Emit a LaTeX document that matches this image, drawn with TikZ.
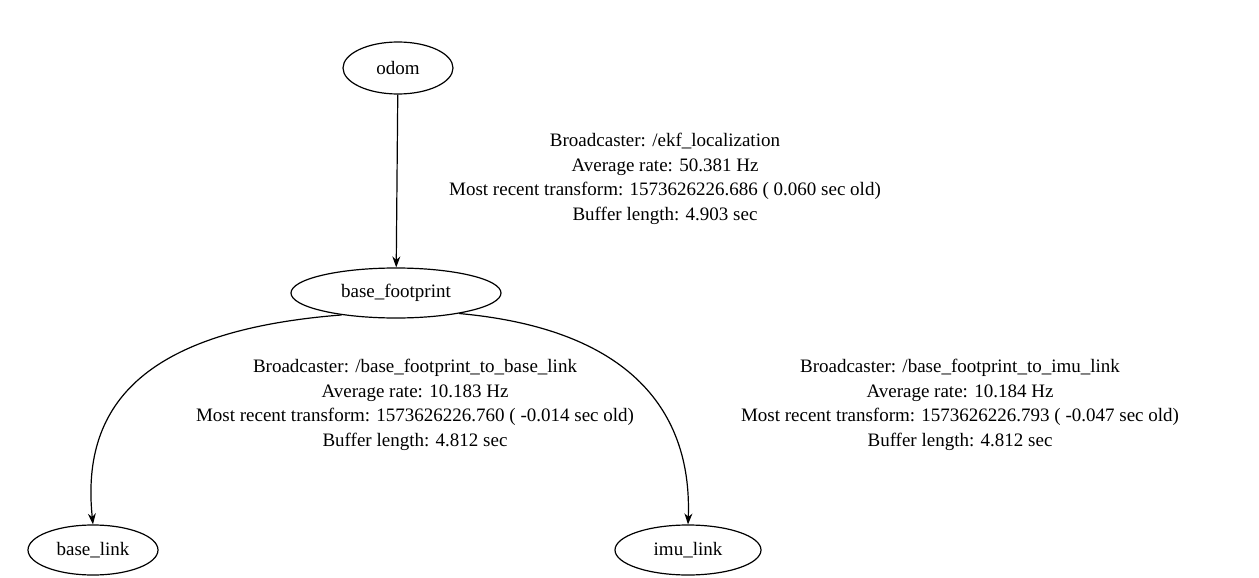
\documentclass[tikz,border=0pt]{standalone}
\usepackage{fontspec}
\setmainfont{Liberation Serif}
\usetikzlibrary{shapes.geometric,arrows.meta}
\begin{document}
\begin{tikzpicture}[x=1pt,y=-1pt,
  nd/.style={draw,ellipse,line width=1.2pt,inner sep=0pt,font=\fontsize{19}{23}\selectfont},
  lb/.style={align=center,inner sep=0pt,font=\fontsize{19}{24.5}\selectfont},
  ed/.style={line width=1.2pt,-{Stealth[length=11pt,width=8pt]}}]
\useasboundingbox (0,0) rectangle (1259,578);
\node[nd,minimum width=110pt,minimum height=52pt] (odom) at (398,68) {odom};
\node[nd,minimum width=210pt,minimum height=50pt] (bf) at (396,293) {base\_footprint};
\node[nd,minimum width=130pt,minimum height=50pt] (bl) at (93,550) {base\_link};
\node[nd,minimum width=146pt,minimum height=50pt] (imu) at (688,550) {imu\_link};
\draw[ed] (odom) -- (bf);
\draw[ed] (bf.202) .. controls (150,330) and (80,400) .. (bl.north);
\draw[ed] (bf.-18) .. controls (640,330) and (692,420) .. (imu.north);
\node[lb] (l1) at (665,179) {Broadcaster: /ekf\_localization\\Average rate: 50.381 Hz\\Most recent transform: 1573626226.686 ( 0.060 sec old)\\Buffer length: 4.903 sec};
\node[lb] (l2) at (415,405) {Broadcaster: /base\_footprint\_to\_base\_link\\Average rate: 10.183 Hz\\Most recent transform: 1573626226.760 ( -0.014 sec old)\\Buffer length: 4.812 sec};
\node[lb] (l3) at (960,405) {Broadcaster: /base\_footprint\_to\_imu\_link\\Average rate: 10.184 Hz\\Most recent transform: 1573626226.793 ( -0.047 sec old)\\Buffer length: 4.812 sec};
\end{tikzpicture}
\end{document}
